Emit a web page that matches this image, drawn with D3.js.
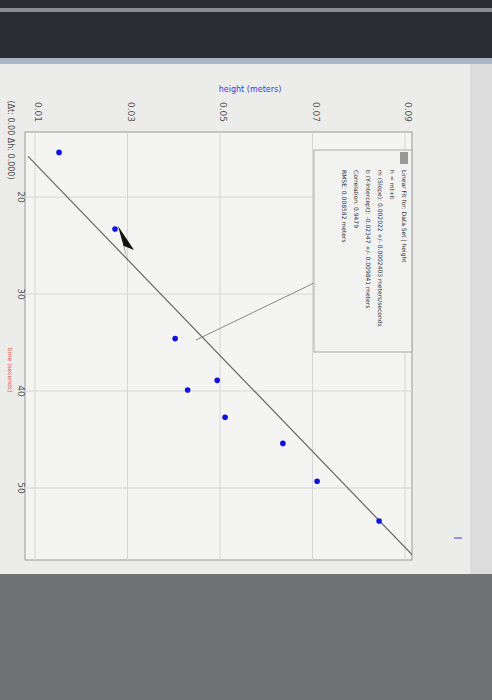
<!DOCTYPE html><html><head><script src="https://cdn.jsdelivr.net/npm/d3@7"></script>
<style>body{margin:0;background:#6e7072}</style></head><body><svg id="c" width="492" height="700"></svg>
<script>
const times=[15.4,23.3,34.6,38.9,39.9,42.7,45.4,49.3,53.4];
const heights=[0.0152,0.0273,0.0403,0.0494,0.0430,0.0511,0.0636,0.0710,0.0844];
const hTicks=[0.01,0.03,0.05,0.07,0.09];
const tTicks=[20,30,40,50];
const slope=0.002022, intercept=-0.02347;
const fitLines=["Linear Fit for: Data Set | height","h = mt+b","m (Slope): 0.002022 +/- 0.0002403 meters/seconds","b (Y-Intercept): -0.02347 +/- 0.009841 meters","Correlation: 0.9479","RMSE: 0.008582 meters"];
const svg=d3.select("#c");
const x=d3.scaleLinear().domain([0.01,0.09]).range([35,405]);
const y=d3.scaleLinear().domain([20,50]).range([197,488]);
svg.append("rect").attr("width",492).attr("height",700).attr("fill","#707274");
svg.append("rect").attr("x",0).attr("y",0).attr("width",492).attr("height",62).attr("fill","#2a2d31");
svg.append("rect").attr("x",0).attr("y",8).attr("width",492).attr("height",4).attr("fill","#8a8c90");
svg.append("rect").attr("x",0).attr("y",58).attr("width",492).attr("height",6).attr("fill","#a9b4c8");
svg.append("rect").attr("x",0).attr("y",64).attr("width",470).attr("height",510).attr("fill","#ececea");
svg.append("rect").attr("x",470).attr("y",64).attr("width",22).attr("height",510).attr("fill","#dcdcdc");
const L=25,R=412,T=132,B=560;
svg.append("defs").append("clipPath").attr("id","pc").append("rect").attr("x",L).attr("y",T).attr("width",R-L).attr("height",B-T);
svg.append("rect").attr("x",L).attr("y",T).attr("width",R-L).attr("height",B-T).attr("fill","#f4f4f2").attr("stroke","#999");
svg.selectAll(".gh").data(hTicks).join("line").attr("x1",d=>x(d)).attr("x2",d=>x(d)).attr("y1",T).attr("y2",B).attr("stroke","#d6d6d6");
svg.selectAll(".gt").data(tTicks).join("line").attr("y1",d=>y(d)).attr("y2",d=>y(d)).attr("x1",L).attr("x2",R).attr("stroke","#d6d6d6");
svg.selectAll(".hl").data(hTicks).join("text").attr("transform",d=>`translate(${x(d)},112) rotate(90)`).attr("text-anchor","middle").attr("font-family","DejaVu Sans").attr("font-size",9).attr("fill","#555").text(d=>d.toFixed(2));
svg.selectAll(".tl").data(tTicks).join("text").attr("transform",d=>`translate(18,${y(d)}) rotate(90)`).attr("text-anchor","middle").attr("font-family","DejaVu Sans").attr("font-size",9).attr("fill","#555").text(d=>d);
svg.append("text").attr("transform","translate(250,92)").attr("text-anchor","middle").attr("font-family","DejaVu Sans").attr("font-size",8).attr("fill","#3a3ae0").text("height (meters)");
svg.append("text").attr("transform","translate(8,140) rotate(90)").attr("text-anchor","middle").attr("font-family","DejaVu Sans").attr("font-size",8).attr("fill","#555").text("(Δt: 0.00 Δh: 0.000)");
svg.append("text").attr("transform","translate(8,370) rotate(90)").attr("text-anchor","middle").attr("font-family","DejaVu Sans").attr("font-size",6).attr("fill","#e05050").text("time (seconds)");
const t0=(0.0085-intercept)/slope, t1=(0.0935-intercept)/slope;
svg.append("line").attr("clip-path","url(#pc)").attr("x1",x(slope*t0+intercept)).attr("y1",y(t0)).attr("x2",x(slope*t1+intercept)).attr("y2",y(t1)).attr("stroke","#666").attr("stroke-width",1.2);
svg.append("line").attr("x1",196).attr("y1",340).attr("x2",314).attr("y2",283).attr("stroke","#888");
const bx=314,by=150;
svg.append("rect").attr("x",bx).attr("y",by).attr("width",98).attr("height",202).attr("fill","#f2f2f0").attr("stroke","#aaa");
svg.append("rect").attr("x",bx+86).attr("y",by+2).attr("width",8).attr("height",12).attr("fill","#999");
svg.selectAll(".ft").data(fitLines).join("text").attr("transform",(d,i)=>`translate(${bx+88-i*12},${by+20}) rotate(90)`).attr("font-family","DejaVu Sans").attr("font-size",6).attr("fill","#333").text(d=>d);
svg.selectAll(".p").data(times).join("circle").attr("cx",(d,i)=>x(heights[i])).attr("cy",d=>y(d)).attr("r",2.8).attr("fill","#1010e0");
svg.append("path").attr("d","M118,226 L128,262 L124,246 L134,250 Z").attr("fill","#111");
svg.append("line").attr("x1",454).attr("y1",538).attr("x2",462).attr("y2",538).attr("stroke","#3a3ae0");
</script></body></html>
